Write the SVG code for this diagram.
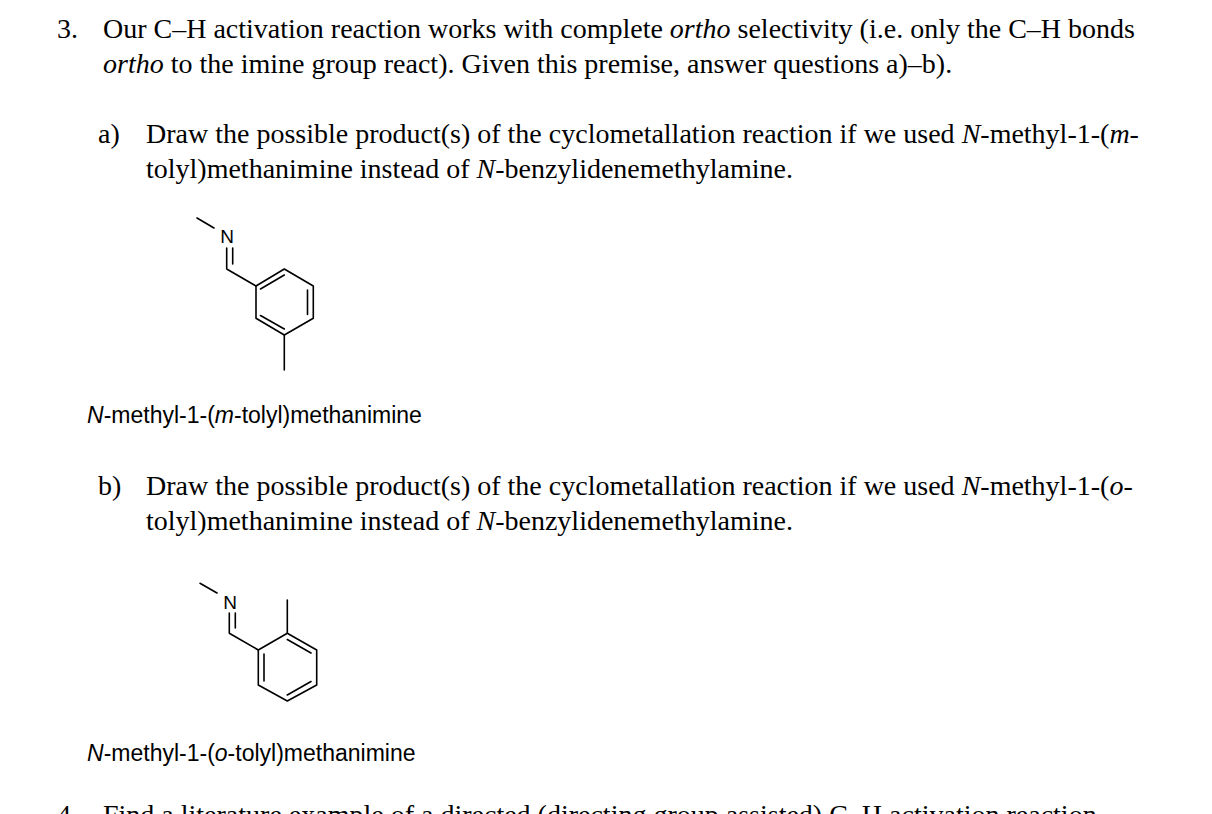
<svg xmlns="http://www.w3.org/2000/svg" width="1212" height="814" viewBox="0 0 1212 814">
<style>
.t{font-family:"Liberation Serif",serif;font-size:28px;fill:#000}
.s{font-family:"Liberation Sans",sans-serif;font-size:23px;fill:#000}
.a{font-family:"Liberation Sans",sans-serif;font-size:19px;fill:#000}
.b{stroke:#000;stroke-width:1.6;fill:none;stroke-linecap:round;stroke-linejoin:round}
</style>
<rect width="1212" height="814" fill="#fff"/>
<g id="text">
<text class="t" x="57" y="38">3.</text>
<text class="t" x="103" y="38">Our C–H activation reaction works with complete <tspan font-style="italic">ortho</tspan> selectivity (i.e. only the C–H bonds</text>
<text class="t" x="103" y="73"><tspan font-style="italic">ortho</tspan> to the imine group react). Given this premise, answer questions a)–b).</text>
<text class="t" x="98" y="143">a)</text>
<text class="t" x="146" y="143">Draw the possible product(s) of the cyclometallation reaction if we used <tspan font-style="italic">N</tspan>-methyl-1-(<tspan font-style="italic">m</tspan>-</text>
<text class="t" x="146" y="178">tolyl)methanimine instead of <tspan font-style="italic">N</tspan>-benzylidenemethylamine.</text>
<text class="t" x="98" y="495">b)</text>
<text class="t" x="146" y="495">Draw the possible product(s) of the cyclometallation reaction if we used <tspan font-style="italic">N</tspan>-methyl-1-(<tspan font-style="italic">o</tspan>-</text>
<text class="t" x="146" y="530">tolyl)methanimine instead of <tspan font-style="italic">N</tspan>-benzylidenemethylamine.</text>
<text class="t" x="57" y="824">4.</text>
<text class="t" x="103" y="824">Find a literature example of a directed (directing group assisted) C–H activation reaction</text>
<text class="s" x="87" y="423"><tspan font-style="italic">N</tspan>-methyl-1-(<tspan font-style="italic">m</tspan>-tolyl)methanimine</text>
<text class="s" x="87" y="761"><tspan font-style="italic">N</tspan>-methyl-1-(<tspan font-style="italic">o</tspan>-tolyl)methanimine</text>
</g>
<g id="mol-a">
<text class="a" x="227" y="243" text-anchor="middle">N</text>
<path class="b" d="M197,218 L214,228 M226.7,248 L226.7,269 M232.7,248 L232.7,264 M226.7,269 L256,286 M284.3,335 L284.3,370 M260.5,289 L284.3,275 M307.5,290 L307.5,314.5 M260.5,315.5 L284.3,329"/>
<path class="b" d="M256,286 L284.3,269 L313.3,286 L313.3,318.3 L284.3,335 L256,318.3 Z"/>
</g>
<g id="mol-b">
<text class="a" x="230" y="609" text-anchor="middle">N</text>
<path class="b" d="M200,583.3 L217,593 M229.3,613 L229.3,633.3 M235.3,613 L235.3,628 M229.3,633.3 L258.3,650 M287.3,633.3 L287.3,600 M264,654 L264,681 M287.3,639.5 L311,653 M311,681.5 L287.3,695"/>
<path class="b" d="M258.3,650 L287.3,633.3 L316.7,650 L316.7,685 L287.3,701 L258.3,685 Z"/>
</g>
</svg>
